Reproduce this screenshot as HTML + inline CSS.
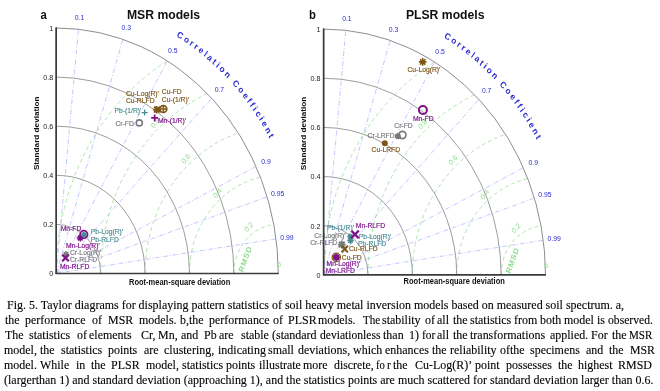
<!DOCTYPE html><html><head><meta charset="utf-8"><style>html,body{margin:0;padding:0;background:#fff;} body{width:660px;height:391px;overflow:hidden;position:relative;} svg text{font-family:"Liberation Sans", sans-serif;} .cap{position:absolute;font-family:"Liberation Serif",serif;font-size:13px;line-height:15px;white-space:nowrap;color:#000;transform-origin:0 0;-webkit-text-stroke:0.12px #000;} .j{text-align:justify;text-align-last:justify;white-space:normal;}</style></head><body>
<svg width="660" height="391" viewBox="0 0 660 391" style="position:absolute;left:0;top:0;will-change:transform">
<g transform="translate(56.25,273.5) scale(0.90428,1)">
<line x1="0" y1="0" x2="24.55" y2="-244.27" stroke="#b4b4ff" stroke-width="0.8" stroke-dasharray="5 2 1 2"/>
<line x1="0" y1="0" x2="73.65" y2="-234.19" stroke="#b4b4ff" stroke-width="0.8" stroke-dasharray="5 2 1 2"/>
<line x1="0" y1="0" x2="122.75" y2="-212.61" stroke="#b4b4ff" stroke-width="0.8" stroke-dasharray="5 2 1 2"/>
<line x1="0" y1="0" x2="171.85" y2="-175.32" stroke="#b4b4ff" stroke-width="0.8" stroke-dasharray="5 2 1 2"/>
<line x1="0" y1="0" x2="220.95" y2="-107.01" stroke="#b4b4ff" stroke-width="0.8" stroke-dasharray="5 2 1 2"/>
<line x1="0" y1="0" x2="233.22" y2="-76.66" stroke="#b4b4ff" stroke-width="0.8" stroke-dasharray="5 2 1 2"/>
<line x1="0" y1="0" x2="243.04" y2="-34.63" stroke="#b4b4ff" stroke-width="0.8" stroke-dasharray="5 2 1 2"/>
<path d="M196.40,0 A49.10,49.10 0 0 1 240.59,-48.85" fill="none" stroke="#8edb8e" stroke-width="0.75" stroke-dasharray="4 3.2"/>
<path d="M147.30,0 A98.20,98.20 0 0 1 225.86,-96.22" fill="none" stroke="#8edb8e" stroke-width="0.75" stroke-dasharray="4 3.2"/>
<path d="M98.20,0 A147.30,147.30 0 0 1 201.31,-140.52" fill="none" stroke="#8edb8e" stroke-width="0.75" stroke-dasharray="4 3.2"/>
<path d="M49.10,0 A196.40,196.40 0 0 1 166.94,-180.00" fill="none" stroke="#8edb8e" stroke-width="0.75" stroke-dasharray="4 3.2"/>
<path d="M0.00,0 A245.50,245.50 0 0 1 122.75,-212.61" fill="none" stroke="#8edb8e" stroke-width="0.75" stroke-dasharray="4 3.2"/>
<path d="M0,-49.10 A49.10,49.10 0 0 1 49.10,0" fill="none" stroke="#8c8c8c" stroke-width="0.9"/>
<path d="M0,-98.20 A98.20,98.20 0 0 1 98.20,0" fill="none" stroke="#8c8c8c" stroke-width="0.9"/>
<path d="M0,-147.30 A147.30,147.30 0 0 1 147.30,0" fill="none" stroke="#8c8c8c" stroke-width="0.9"/>
<path d="M0,-196.40 A196.40,196.40 0 0 1 196.40,0" fill="none" stroke="#8c8c8c" stroke-width="0.9"/>
<path d="M0,-245.50 A245.50,245.50 0 0 1 245.50,0" fill="none" stroke="#7a7a7a" stroke-width="0.9"/>
<line x1="0" y1="0.5" x2="0" y2="-246.00" stroke="#3c3c3c" stroke-width="1.6"/>
<line x1="-0.5" y1="0" x2="246.00" y2="0" stroke="#3c3c3c" stroke-width="1.6"/>
<text x="-3.3" y="2.90" text-anchor="end" font-size="8" fill="#222">0</text>
<text x="-3.3" y="-46.20" text-anchor="end" font-size="8" fill="#222">0.2</text>
<text x="-3.3" y="-95.30" text-anchor="end" font-size="8" fill="#222">0.4</text>
<text x="-3.3" y="-144.40" text-anchor="end" font-size="8" fill="#222">0.6</text>
<text x="-3.3" y="-193.50" text-anchor="end" font-size="8" fill="#222">0.8</text>
<text x="-3.3" y="-242.60" text-anchor="end" font-size="8" fill="#222">1</text>
<text x="25.78" y="-253.68" text-anchor="middle" font-size="7.6" fill="#2a2ad0">0.1</text>
<text x="77.33" y="-243.10" text-anchor="middle" font-size="7.6" fill="#2a2ad0">0.3</text>
<text x="128.89" y="-220.44" text-anchor="middle" font-size="7.6" fill="#2a2ad0">0.5</text>
<text x="180.44" y="-181.29" text-anchor="middle" font-size="7.6" fill="#2a2ad0">0.7</text>
<text x="232.00" y="-109.56" text-anchor="middle" font-size="7.6" fill="#2a2ad0">0.9</text>
<text x="244.89" y="-77.69" text-anchor="middle" font-size="7.6" fill="#2a2ad0">0.95</text>
<text x="255.20" y="-33.56" text-anchor="middle" font-size="7.6" fill="#2a2ad0">0.99</text>
<path id="cc56" d="M129.09,-242.78 A274.96,274.96 0 0 1 242.78,-129.09" fill="none"/>
<text font-size="9" font-weight="bold" fill="#2a2ad0" letter-spacing="2.35" dominant-baseline="central"><textPath href="#cc56" startOffset="50%" text-anchor="middle">Correlation Coefficient</textPath></text>
<text transform="translate(109.49,-150.49) rotate(-47)" font-size="7.6" fill="#8edb8e" text-anchor="middle" dominant-baseline="central">0.8</text>
<text transform="translate(143.13,-114.89) rotate(-47)" font-size="7.6" fill="#8edb8e" text-anchor="middle" dominant-baseline="central">0.6</text>
<text transform="translate(178.23,-80.52) rotate(-47)" font-size="7.6" fill="#8edb8e" text-anchor="middle" dominant-baseline="central">0.4</text>
<text transform="translate(212.85,-46.65) rotate(-45)" font-size="7.6" fill="#8edb8e" text-anchor="middle" dominant-baseline="central">0.2</text>
<text transform="translate(209.17,-14.48) rotate(-68)" font-size="8.2" font-weight="bold" letter-spacing="0.8" fill="#8edb8e" text-anchor="middle" dominant-baseline="central">RMSD</text>
<text transform="translate(246.24,-9.33) rotate(-50)" font-size="7.4" fill="#8edb8e" text-anchor="middle" dominant-baseline="central">0</text>
</g>
<g transform="translate(323.6,274.9) scale(0.90277,1)">
<line x1="0" y1="0" x2="24.58" y2="-244.57" stroke="#b4b4ff" stroke-width="0.8" stroke-dasharray="5 2 1 2"/>
<line x1="0" y1="0" x2="73.74" y2="-234.48" stroke="#b4b4ff" stroke-width="0.8" stroke-dasharray="5 2 1 2"/>
<line x1="0" y1="0" x2="122.90" y2="-212.87" stroke="#b4b4ff" stroke-width="0.8" stroke-dasharray="5 2 1 2"/>
<line x1="0" y1="0" x2="172.06" y2="-175.54" stroke="#b4b4ff" stroke-width="0.8" stroke-dasharray="5 2 1 2"/>
<line x1="0" y1="0" x2="221.22" y2="-107.14" stroke="#b4b4ff" stroke-width="0.8" stroke-dasharray="5 2 1 2"/>
<line x1="0" y1="0" x2="233.51" y2="-76.75" stroke="#b4b4ff" stroke-width="0.8" stroke-dasharray="5 2 1 2"/>
<line x1="0" y1="0" x2="243.34" y2="-34.67" stroke="#b4b4ff" stroke-width="0.8" stroke-dasharray="5 2 1 2"/>
<path d="M196.64,0 A49.16,49.16 0 0 1 240.88,-48.91" fill="none" stroke="#8edb8e" stroke-width="0.75" stroke-dasharray="4 3.2"/>
<path d="M147.48,0 A98.32,98.32 0 0 1 226.14,-96.33" fill="none" stroke="#8edb8e" stroke-width="0.75" stroke-dasharray="4 3.2"/>
<path d="M98.32,0 A147.48,147.48 0 0 1 201.56,-140.69" fill="none" stroke="#8edb8e" stroke-width="0.75" stroke-dasharray="4 3.2"/>
<path d="M49.16,0 A196.64,196.64 0 0 1 167.14,-180.22" fill="none" stroke="#8edb8e" stroke-width="0.75" stroke-dasharray="4 3.2"/>
<path d="M0.00,0 A245.80,245.80 0 0 1 122.90,-212.87" fill="none" stroke="#8edb8e" stroke-width="0.75" stroke-dasharray="4 3.2"/>
<path d="M0,-49.16 A49.16,49.16 0 0 1 49.16,0" fill="none" stroke="#8c8c8c" stroke-width="0.9"/>
<path d="M0,-98.32 A98.32,98.32 0 0 1 98.32,0" fill="none" stroke="#8c8c8c" stroke-width="0.9"/>
<path d="M0,-147.48 A147.48,147.48 0 0 1 147.48,0" fill="none" stroke="#8c8c8c" stroke-width="0.9"/>
<path d="M0,-196.64 A196.64,196.64 0 0 1 196.64,0" fill="none" stroke="#8c8c8c" stroke-width="0.9"/>
<path d="M0,-245.80 A245.80,245.80 0 0 1 245.80,0" fill="none" stroke="#7a7a7a" stroke-width="0.9"/>
<line x1="0" y1="0.5" x2="0" y2="-246.30" stroke="#3c3c3c" stroke-width="1.6"/>
<line x1="-0.5" y1="0" x2="246.30" y2="0" stroke="#3c3c3c" stroke-width="1.6"/>
<text x="-3.3" y="2.90" text-anchor="end" font-size="8" fill="#222">0</text>
<text x="-3.3" y="-46.26" text-anchor="end" font-size="8" fill="#222">0.2</text>
<text x="-3.3" y="-95.42" text-anchor="end" font-size="8" fill="#222">0.4</text>
<text x="-3.3" y="-144.58" text-anchor="end" font-size="8" fill="#222">0.6</text>
<text x="-3.3" y="-193.74" text-anchor="end" font-size="8" fill="#222">0.8</text>
<text x="-3.3" y="-242.90" text-anchor="end" font-size="8" fill="#222">1</text>
<text x="25.81" y="-254.00" text-anchor="middle" font-size="7.6" fill="#2a2ad0">0.1</text>
<text x="77.43" y="-243.40" text-anchor="middle" font-size="7.6" fill="#2a2ad0">0.3</text>
<text x="129.05" y="-220.71" text-anchor="middle" font-size="7.6" fill="#2a2ad0">0.5</text>
<text x="180.66" y="-181.51" text-anchor="middle" font-size="7.6" fill="#2a2ad0">0.7</text>
<text x="232.28" y="-109.70" text-anchor="middle" font-size="7.6" fill="#2a2ad0">0.9</text>
<text x="245.19" y="-77.79" text-anchor="middle" font-size="7.6" fill="#2a2ad0">0.95</text>
<text x="255.51" y="-33.61" text-anchor="middle" font-size="7.6" fill="#2a2ad0">0.99</text>
<path id="cc323" d="M129.24,-243.07 A275.30,275.30 0 0 1 243.07,-129.24" fill="none"/>
<text font-size="9" font-weight="bold" fill="#2a2ad0" letter-spacing="2.35" dominant-baseline="central"><textPath href="#cc323" startOffset="50%" text-anchor="middle">Correlation Coefficient</textPath></text>
<text transform="translate(109.63,-150.68) rotate(-47)" font-size="7.6" fill="#8edb8e" text-anchor="middle" dominant-baseline="central">0.8</text>
<text transform="translate(143.30,-115.03) rotate(-47)" font-size="7.6" fill="#8edb8e" text-anchor="middle" dominant-baseline="central">0.6</text>
<text transform="translate(178.45,-80.62) rotate(-47)" font-size="7.6" fill="#8edb8e" text-anchor="middle" dominant-baseline="central">0.4</text>
<text transform="translate(213.11,-46.70) rotate(-45)" font-size="7.6" fill="#8edb8e" text-anchor="middle" dominant-baseline="central">0.2</text>
<text transform="translate(209.42,-14.50) rotate(-68)" font-size="8.2" font-weight="bold" letter-spacing="0.8" fill="#8edb8e" text-anchor="middle" dominant-baseline="central">RMSD</text>
<text transform="translate(246.54,-9.34) rotate(-50)" font-size="7.4" fill="#8edb8e" text-anchor="middle" dominant-baseline="central">0</text>
</g>
<text x="44.91" y="18.70" transform="scale(0.904,1)" font-size="12.5" fill="#111" font-weight="bold" text-anchor="start" >a</text>
<text x="140.38" y="19.20" transform="scale(0.904,1)" font-size="13.5" fill="#111" font-weight="bold" text-anchor="start" >MSR models</text>
<text x="341.81" y="18.90" transform="scale(0.904,1)" font-size="12.5" fill="#111" font-weight="bold" text-anchor="start" >b</text>
<text x="449.00" y="19.40" transform="scale(0.904,1)" font-size="13.5" fill="#111" font-weight="bold" text-anchor="start" >PLSR models</text>
<text x="142.70" y="284.80" transform="scale(0.904,1)" font-size="8.3" fill="#111" font-weight="bold" text-anchor="start" >Root-mean-square deviation</text>
<text x="446.46" y="284.30" transform="scale(0.904,1)" font-size="8.3" fill="#111" font-weight="bold" text-anchor="start" >Root-mean-square deviation</text>
<text transform="scale(0.904,1) translate(43.14,133.3) rotate(-90)" font-size="8.2" font-weight="bold" fill="#111" text-anchor="middle">Standard deviation</text>
<text transform="scale(0.904,1) translate(338.38,133.5) rotate(-90)" font-size="8.2" font-weight="bold" fill="#111" text-anchor="middle">Standard deviation</text>
<path d="M152.90,109.70L160.50,109.70M154.01,107.01L159.39,112.39M156.70,105.90L156.70,113.50M159.39,107.01L154.01,112.39" stroke="#7d5614" stroke-width="1.6" fill="none"/>
<path d="M154.50,106.50L160.50,112.50M154.50,112.50L160.50,106.50" stroke="#7d5614" stroke-width="1.6" fill="none"/>
<circle cx="159.50" cy="109.20" r="2.50" fill="#7d5614"/>
<circle cx="163.35" cy="109.00" r="3.40" stroke="#7d5614" stroke-width="1.7" fill="#fff"/>
<path d="M159.55,109.00L167.15,109.00M163.35,105.20L163.35,112.80" stroke="#7d5614" stroke-width="1.4" fill="none"/>
<path d="M141.60,112.60L147.60,112.60M144.60,109.60L144.60,115.60" stroke="#4a8c94" stroke-width="1.3" fill="none"/>
<path d="M151.15,117.90L158.15,117.90M154.65,114.40L154.65,121.40" stroke="#7d0f87" stroke-width="1.7" fill="none"/>
<circle cx="139.30" cy="122.90" r="3.00" stroke="#7a7a7a" stroke-width="1.6" fill="none"/>
<path d="M62.70,254.40L69.30,254.40M63.67,252.07L68.33,256.73M66.00,251.10L66.00,257.70M68.33,252.07L63.67,256.73" stroke="#7a7a7a" stroke-width="1.4" fill="none"/>
<path d="M62.20,254.70L68.80,261.30M62.20,261.30L68.80,254.70" stroke="#7d0f87" stroke-width="2.1" fill="none"/>
<path d="M76.80,238.00L83.60,238.00M77.80,235.60L82.60,240.40M80.20,234.60L80.20,241.40M82.60,235.60L77.80,240.40" stroke="#7d0f87" stroke-width="1.5" fill="none"/>
<circle cx="83.80" cy="234.40" r="3.70" stroke="#7d0f87" stroke-width="1.8" fill="none"/>
<circle cx="84.00" cy="234.80" r="2.70" fill="#4a8c94"/>
<text x="139.38" y="96.50" transform="scale(0.904,1)" font-size="7.5" fill="#7d5614" font-weight="normal" text-anchor="start" stroke="#7d5614" stroke-width="0.18" >Cu-Log(R)'</text>
<text x="139.38" y="103.50" transform="scale(0.904,1)" font-size="7.5" fill="#7d5614" font-weight="normal" text-anchor="start" stroke="#7d5614" stroke-width="0.18" >Cu-RLFD</text>
<text x="178.98" y="94.50" transform="scale(0.904,1)" font-size="7.5" fill="#7d5614" font-weight="normal" text-anchor="start" stroke="#7d5614" stroke-width="0.18" >Cu-FD</text>
<text x="178.98" y="102.50" transform="scale(0.904,1)" font-size="7.5" fill="#7d5614" font-weight="normal" text-anchor="start" stroke="#7d5614" stroke-width="0.18" >Cu-(1/R)'</text>
<text x="126.66" y="112.70" transform="scale(0.904,1)" font-size="7.5" fill="#4a8c94" font-weight="normal" text-anchor="start" stroke="#4a8c94" stroke-width="0.18" >Pb-(1/R)'</text>
<text x="127.77" y="125.70" transform="scale(0.904,1)" font-size="7.5" fill="#7a7a7a" font-weight="normal" text-anchor="start" stroke="#7a7a7a" stroke-width="0.18" >Cr-FD</text>
<text x="174.78" y="123.00" transform="scale(0.904,1)" font-size="7.5" fill="#7d0f87" font-weight="normal" text-anchor="start" stroke="#7d0f87" stroke-width="0.18" >Mn-(1/R)'</text>
<text x="67.15" y="231.20" transform="scale(0.904,1)" font-size="7.5" fill="#7d0f87" font-weight="normal" text-anchor="start" stroke="#7d0f87" stroke-width="0.18" >Mn-FD</text>
<text x="100.33" y="234.30" transform="scale(0.904,1)" font-size="7.5" fill="#4a8c94" font-weight="normal" text-anchor="start" stroke="#4a8c94" stroke-width="0.18" >Pb-Log(R)'</text>
<text x="100.33" y="242.00" transform="scale(0.904,1)" font-size="7.5" fill="#4a8c94" font-weight="normal" text-anchor="start" stroke="#4a8c94" stroke-width="0.18" >Pb-RLFD</text>
<text x="73.12" y="247.70" transform="scale(0.904,1)" font-size="7.5" fill="#7d0f87" font-weight="normal" text-anchor="start" stroke="#7d0f87" stroke-width="0.18" >Mn-Log(R)'</text>
<text x="77.43" y="255.00" transform="scale(0.904,1)" font-size="7.5" fill="#7a7a7a" font-weight="normal" text-anchor="start" stroke="#7a7a7a" stroke-width="0.18" >Cr-Log(R)'</text>
<text x="77.43" y="261.90" transform="scale(0.904,1)" font-size="7.5" fill="#7a7a7a" font-weight="normal" text-anchor="start" stroke="#7a7a7a" stroke-width="0.18" >Cr-RLFD</text>
<text x="66.37" y="268.90" transform="scale(0.904,1)" font-size="7.5" fill="#7d0f87" font-weight="normal" text-anchor="start" stroke="#7d0f87" stroke-width="0.18" >Mn-RLFD</text>
<path d="M418.90,61.90L426.50,61.90M420.01,59.21L425.39,64.59M422.70,58.10L422.70,65.70M425.39,59.21L420.01,64.59" stroke="#7d5614" stroke-width="1.6" fill="none"/>
<circle cx="422.90" cy="110.00" r="4.00" stroke="#7d0f87" stroke-width="2.0" fill="none"/>
<circle cx="397.90" cy="136.20" r="3.00" fill="#7a7a7a"/>
<circle cx="402.40" cy="135.00" r="3.60" stroke="#7a7a7a" stroke-width="1.7" fill="none"/>
<circle cx="384.80" cy="143.30" r="3.00" fill="#7d5614"/>
<path d="M337.80,244.60L345.80,244.60M338.97,241.77L344.63,247.43M341.80,240.60L341.80,248.60M344.63,241.77L338.97,247.43" stroke="#7a7a7a" stroke-width="1.9" fill="none"/>
<path d="M341.50,245.80L347.90,252.20M341.50,252.20L347.90,245.80" stroke="#7d5614" stroke-width="2.0" fill="none"/>
<path d="M347.30,236.50L353.30,236.50M348.18,234.38L352.42,238.62M350.30,233.50L350.30,239.50M352.42,234.38L348.18,238.62" stroke="#4a8c94" stroke-width="1.5" fill="none"/>
<path d="M347.30,240.50L353.70,240.50M348.24,238.24L352.76,242.76M350.50,237.30L350.50,243.70M352.76,238.24L348.24,242.76" stroke="#4a8c94" stroke-width="1.6" fill="none"/>
<path d="M351.20,230.60L358.80,238.20M351.20,238.20L358.80,230.60" stroke="#7d0f87" stroke-width="2.2" fill="none"/>
<circle cx="336.30" cy="257.40" r="4.20" stroke="#7d5614" stroke-width="1.2" fill="none"/>
<circle cx="336.30" cy="257.40" r="3.30" fill="#7d0f87"/>
<path d="M333.10,257.40L339.50,257.40M334.04,255.14L338.56,259.66M336.30,254.20L336.30,260.60M338.56,255.14L334.04,259.66" stroke="#7d0f87" stroke-width="1.2" fill="none"/>
<text x="450.77" y="72.30" transform="scale(0.904,1)" font-size="7.5" fill="#7d5614" font-weight="normal" text-anchor="start" stroke="#7d5614" stroke-width="0.18" >Cu-Log(R)'</text>
<text x="456.86" y="120.70" transform="scale(0.904,1)" font-size="7.5" fill="#7d0f87" font-weight="normal" text-anchor="start" stroke="#7d0f87" stroke-width="0.18" >Mn-FD</text>
<text x="436.17" y="128.50" transform="scale(0.904,1)" font-size="7.5" fill="#7a7a7a" font-weight="normal" text-anchor="start" stroke="#7a7a7a" stroke-width="0.18" >Cr-FD</text>
<text x="406.53" y="138.50" transform="scale(0.904,1)" font-size="7.5" fill="#7a7a7a" font-weight="normal" text-anchor="start" stroke="#7a7a7a" stroke-width="0.18" >Cr-LRFD</text>
<text x="410.95" y="151.90" transform="scale(0.904,1)" font-size="7.5" fill="#7d5614" font-weight="normal" text-anchor="start" stroke="#7d5614" stroke-width="0.18" >Cu-LRFD</text>
<text x="393.58" y="227.70" transform="scale(0.904,1)" font-size="7.5" fill="#7d0f87" font-weight="normal" text-anchor="start" stroke="#7d0f87" stroke-width="0.18" >Mn-RLFD</text>
<text x="361.84" y="230.20" transform="scale(0.904,1)" font-size="7.5" fill="#4a8c94" font-weight="normal" text-anchor="start" stroke="#4a8c94" stroke-width="0.18" >Pb-(1/R)'</text>
<text x="347.68" y="238.40" transform="scale(0.904,1)" font-size="7.5" fill="#7a7a7a" font-weight="normal" text-anchor="start" stroke="#7a7a7a" stroke-width="0.18" >Cr-Log(R)'</text>
<text x="343.14" y="245.30" transform="scale(0.904,1)" font-size="7.5" fill="#7a7a7a" font-weight="normal" text-anchor="start" stroke="#7a7a7a" stroke-width="0.18" >Cr-RLFD</text>
<text x="396.90" y="238.80" transform="scale(0.904,1)" font-size="7.5" fill="#4a8c94" font-weight="normal" text-anchor="start" stroke="#4a8c94" stroke-width="0.18" >Pb-Log(R)'</text>
<text x="396.02" y="246.10" transform="scale(0.904,1)" font-size="7.5" fill="#4a8c94" font-weight="normal" text-anchor="start" stroke="#4a8c94" stroke-width="0.18" >Pb-RLFD</text>
<text x="386.06" y="251.40" transform="scale(0.904,1)" font-size="7.5" fill="#7d5614" font-weight="normal" text-anchor="start" stroke="#7d5614" stroke-width="0.18" >Cu-RLFD</text>
<text x="378.10" y="260.30" transform="scale(0.904,1)" font-size="7.5" fill="#7d5614" font-weight="normal" text-anchor="start" stroke="#7d5614" stroke-width="0.18" >Cu-FD</text>
<text x="361.28" y="265.70" transform="scale(0.904,1)" font-size="7.5" fill="#7d0f87" font-weight="normal" text-anchor="start" stroke="#7d0f87" stroke-width="0.18" >Mn-Log(R)'</text>
<text x="360.29" y="273.00" transform="scale(0.904,1)" font-size="7.5" fill="#7d0f87" font-weight="normal" text-anchor="start" stroke="#7d0f87" stroke-width="0.18" >Mn-LRFD</text>
<line x1="56.25" y1="274.0" x2="56.25" y2="27.50" stroke="#3c3c3c" stroke-width="1.45"/>
<line x1="323.6" y1="275.4" x2="323.6" y2="28.60" stroke="#3c3c3c" stroke-width="1.45"/>
</svg>
<div class="cap" style="left:7.1px;top:297.00px;word-spacing:0.000px;transform:scaleX(0.921)">Fig. 5. Taylor diagrams for displaying pattern statistics of soil heavy metal inversion models based on measured soil spectrum. a,</div>
<div class="cap" style="left:4.67px;top:312.00px;transform:scaleX(0.9210)">the</div>
<div class="cap" style="left:25px;top:312.00px;transform:scaleX(0.9210)">performance</div>
<div class="cap" style="left:91.7px;top:312.00px;transform:scaleX(0.9210)">of</div>
<div class="cap" style="left:107.5px;top:312.00px;transform:scaleX(0.9210)">MSR</div>
<div class="cap" style="left:139.2px;top:312.00px;transform:scaleX(0.9210)">models.</div>
<div class="cap" style="left:180px;top:312.00px;transform:scaleX(0.9210)">b,the</div>
<div class="cap" style="left:209.2px;top:312.00px;transform:scaleX(0.9210)">performance</div>
<div class="cap" style="left:273.3px;top:312.00px;transform:scaleX(0.9210)">of</div>
<div class="cap" style="left:287.5px;top:312.00px;transform:scaleX(0.9210)">PLSR</div>
<div class="cap" style="left:318.3px;top:312.00px;transform:scaleX(0.9210)">models.</div>
<div class="cap" style="left:362.5px;top:312.00px;transform:scaleX(0.8507)">The</div>
<div class="cap" style="left:381.7px;top:312.00px;transform:scaleX(0.9210)">stability</div>
<div class="cap" style="left:425px;top:312.00px;transform:scaleX(0.9210)">of</div>
<div class="cap" style="left:437px;top:312.00px;transform:scaleX(0.9210)">all</div>
<div class="cap" style="left:452.5px;top:312.00px;transform:scaleX(0.9210)">the</div>
<div class="cap" style="left:470px;top:312.00px;transform:scaleX(0.9210)">statistics</div>
<div class="cap" style="left:514.2px;top:312.00px;transform:scaleX(0.9210)">from</div>
<div class="cap" style="left:540px;top:312.00px;transform:scaleX(0.9210)">both</div>
<div class="cap" style="left:564.3px;top:312.00px;transform:scaleX(0.9210)">model</div>
<div class="cap" style="left:596.5px;top:312.00px;transform:scaleX(0.9210)">is</div>
<div class="cap" style="left:608.2px;top:312.00px;transform:scaleX(0.8966)">observed.</div>
<div class="cap" style="left:5px;top:327.00px;transform:scaleX(0.9210)">The</div>
<div class="cap" style="left:29.2px;top:327.00px;transform:scaleX(0.9210)">statistics</div>
<div class="cap" style="left:76.7px;top:327.00px;transform:scaleX(0.9210)">of</div>
<div class="cap" style="left:89.2px;top:327.00px;transform:scaleX(0.9210)">elements</div>
<div class="cap" style="left:140.8px;top:327.00px;transform:scaleX(0.9210)">Cr,</div>
<div class="cap" style="left:157.5px;top:327.00px;transform:scaleX(0.9210)">Mn,</div>
<div class="cap" style="left:180.8px;top:327.00px;transform:scaleX(0.9210)">and</div>
<div class="cap" style="left:204.2px;top:327.00px;transform:scaleX(0.9210)">Pb</div>
<div class="cap" style="left:219.2px;top:327.00px;transform:scaleX(0.9210)">are</div>
<div class="cap" style="left:240.8px;top:327.00px;transform:scaleX(0.9210)">stable</div>
<div class="cap" style="left:271.7px;top:327.00px;transform:scaleX(0.9210)">(standard</div>
<div class="cap" style="left:320px;top:327.00px;transform:scaleX(0.8911)">deviationless</div>
<div class="cap" style="left:382.5px;top:327.00px;transform:scaleX(0.9210)">than</div>
<div class="cap" style="left:409.2px;top:327.00px;transform:scaleX(0.9210)">1)</div>
<div class="cap" style="left:421.7px;top:327.00px;transform:scaleX(0.8766)">for</div>
<div class="cap" style="left:437px;top:327.00px;transform:scaleX(0.9210)">all</div>
<div class="cap" style="left:452.5px;top:327.00px;transform:scaleX(0.9210)">the</div>
<div class="cap" style="left:470px;top:327.00px;transform:scaleX(0.9210)">transformations</div>
<div class="cap" style="left:550px;top:327.00px;transform:scaleX(0.9210)">applied.</div>
<div class="cap" style="left:590.5px;top:327.00px;transform:scaleX(0.9210)">For</div>
<div class="cap" style="left:611.5px;top:327.00px;transform:scaleX(0.9210)">the</div>
<div class="cap" style="left:629px;top:327.00px;transform:scaleX(0.8519)">MSR</div>
<div class="cap" style="left:4.2px;top:342.00px;transform:scaleX(0.9210)">model,</div>
<div class="cap" style="left:40px;top:342.00px;transform:scaleX(0.9210)">the</div>
<div class="cap" style="left:60.8px;top:342.00px;transform:scaleX(0.9210)">statistics</div>
<div class="cap" style="left:108.3px;top:342.00px;transform:scaleX(0.9210)">points</div>
<div class="cap" style="left:144.2px;top:342.00px;transform:scaleX(0.9210)">are</div>
<div class="cap" style="left:164.2px;top:342.00px;transform:scaleX(0.9210)">clustering,</div>
<div class="cap" style="left:217.5px;top:342.00px;transform:scaleX(0.9210)">indicating</div>
<div class="cap" style="left:267.5px;top:342.00px;transform:scaleX(0.9210)">small</div>
<div class="cap" style="left:297.5px;top:342.00px;transform:scaleX(0.9210)">deviations,</div>
<div class="cap" style="left:352.5px;top:342.00px;transform:scaleX(0.9210)">which</div>
<div class="cap" style="left:385px;top:342.00px;transform:scaleX(0.9210)">enhances</div>
<div class="cap" style="left:431.7px;top:342.00px;transform:scaleX(0.9210)">the</div>
<div class="cap" style="left:450px;top:342.00px;transform:scaleX(0.9210)">reliability</div>
<div class="cap" style="left:500px;top:342.00px;transform:scaleX(0.9210)">ofthe</div>
<div class="cap" style="left:530px;top:342.00px;transform:scaleX(0.9210)">specimens</div>
<div class="cap" style="left:585.8px;top:342.00px;transform:scaleX(0.9210)">and</div>
<div class="cap" style="left:609.2px;top:342.00px;transform:scaleX(0.9210)">the</div>
<div class="cap" style="left:629.7px;top:342.00px;transform:scaleX(0.9101)">MSR</div>
<div class="cap" style="left:4.2px;top:357.00px;transform:scaleX(0.9210)">model.</div>
<div class="cap" style="left:40px;top:357.00px;transform:scaleX(0.9210)">While</div>
<div class="cap" style="left:75.8px;top:357.00px;transform:scaleX(0.9210)">in</div>
<div class="cap" style="left:90.8px;top:357.00px;transform:scaleX(0.9210)">the</div>
<div class="cap" style="left:110.8px;top:357.00px;transform:scaleX(0.9210)">PLSR</div>
<div class="cap" style="left:145.8px;top:357.00px;transform:scaleX(0.9210)">model,</div>
<div class="cap" style="left:182.2px;top:357.00px;transform:scaleX(0.9210)">statistics</div>
<div class="cap" style="left:226.4px;top:357.00px;transform:scaleX(0.9210)">points</div>
<div class="cap" style="left:258.5px;top:357.00px;transform:scaleX(0.9210)">illustrate</div>
<div class="cap" style="left:303.3px;top:357.00px;transform:scaleX(0.9210)">more</div>
<div class="cap" style="left:334.2px;top:357.00px;transform:scaleX(0.9068)">discrete,</div>
<div class="cap" style="left:375.8px;top:357.00px;transform:scaleX(0.8207)">fo</div>
<div class="cap" style="left:386.7px;top:357.00px;transform:scaleX(0.8748)">r</div>
<div class="cap" style="left:392.5px;top:357.00px;transform:scaleX(0.9210)">the</div>
<div class="cap" style="left:415px;top:357.00px;transform:scaleX(0.9210)">Cu-Log(R)&#8217;</div>
<div class="cap" style="left:475px;top:357.00px;transform:scaleX(0.9210)">point</div>
<div class="cap" style="left:505.8px;top:357.00px;transform:scaleX(0.9210)">possesses</div>
<div class="cap" style="left:557.5px;top:357.00px;transform:scaleX(0.9210)">the</div>
<div class="cap" style="left:578.2px;top:357.00px;transform:scaleX(0.9210)">highest</div>
<div class="cap" style="left:618.3px;top:357.00px;transform:scaleX(0.9210)">RMSD</div>
<div class="cap" style="left:4.3px;top:372.00px;word-spacing:0.011px;transform:scaleX(0.921)">(largerthan 1) and standard deviation (approaching 1), and the statistics points are much scattered for standard deviation larger than 0.6.</div>
</body></html>
